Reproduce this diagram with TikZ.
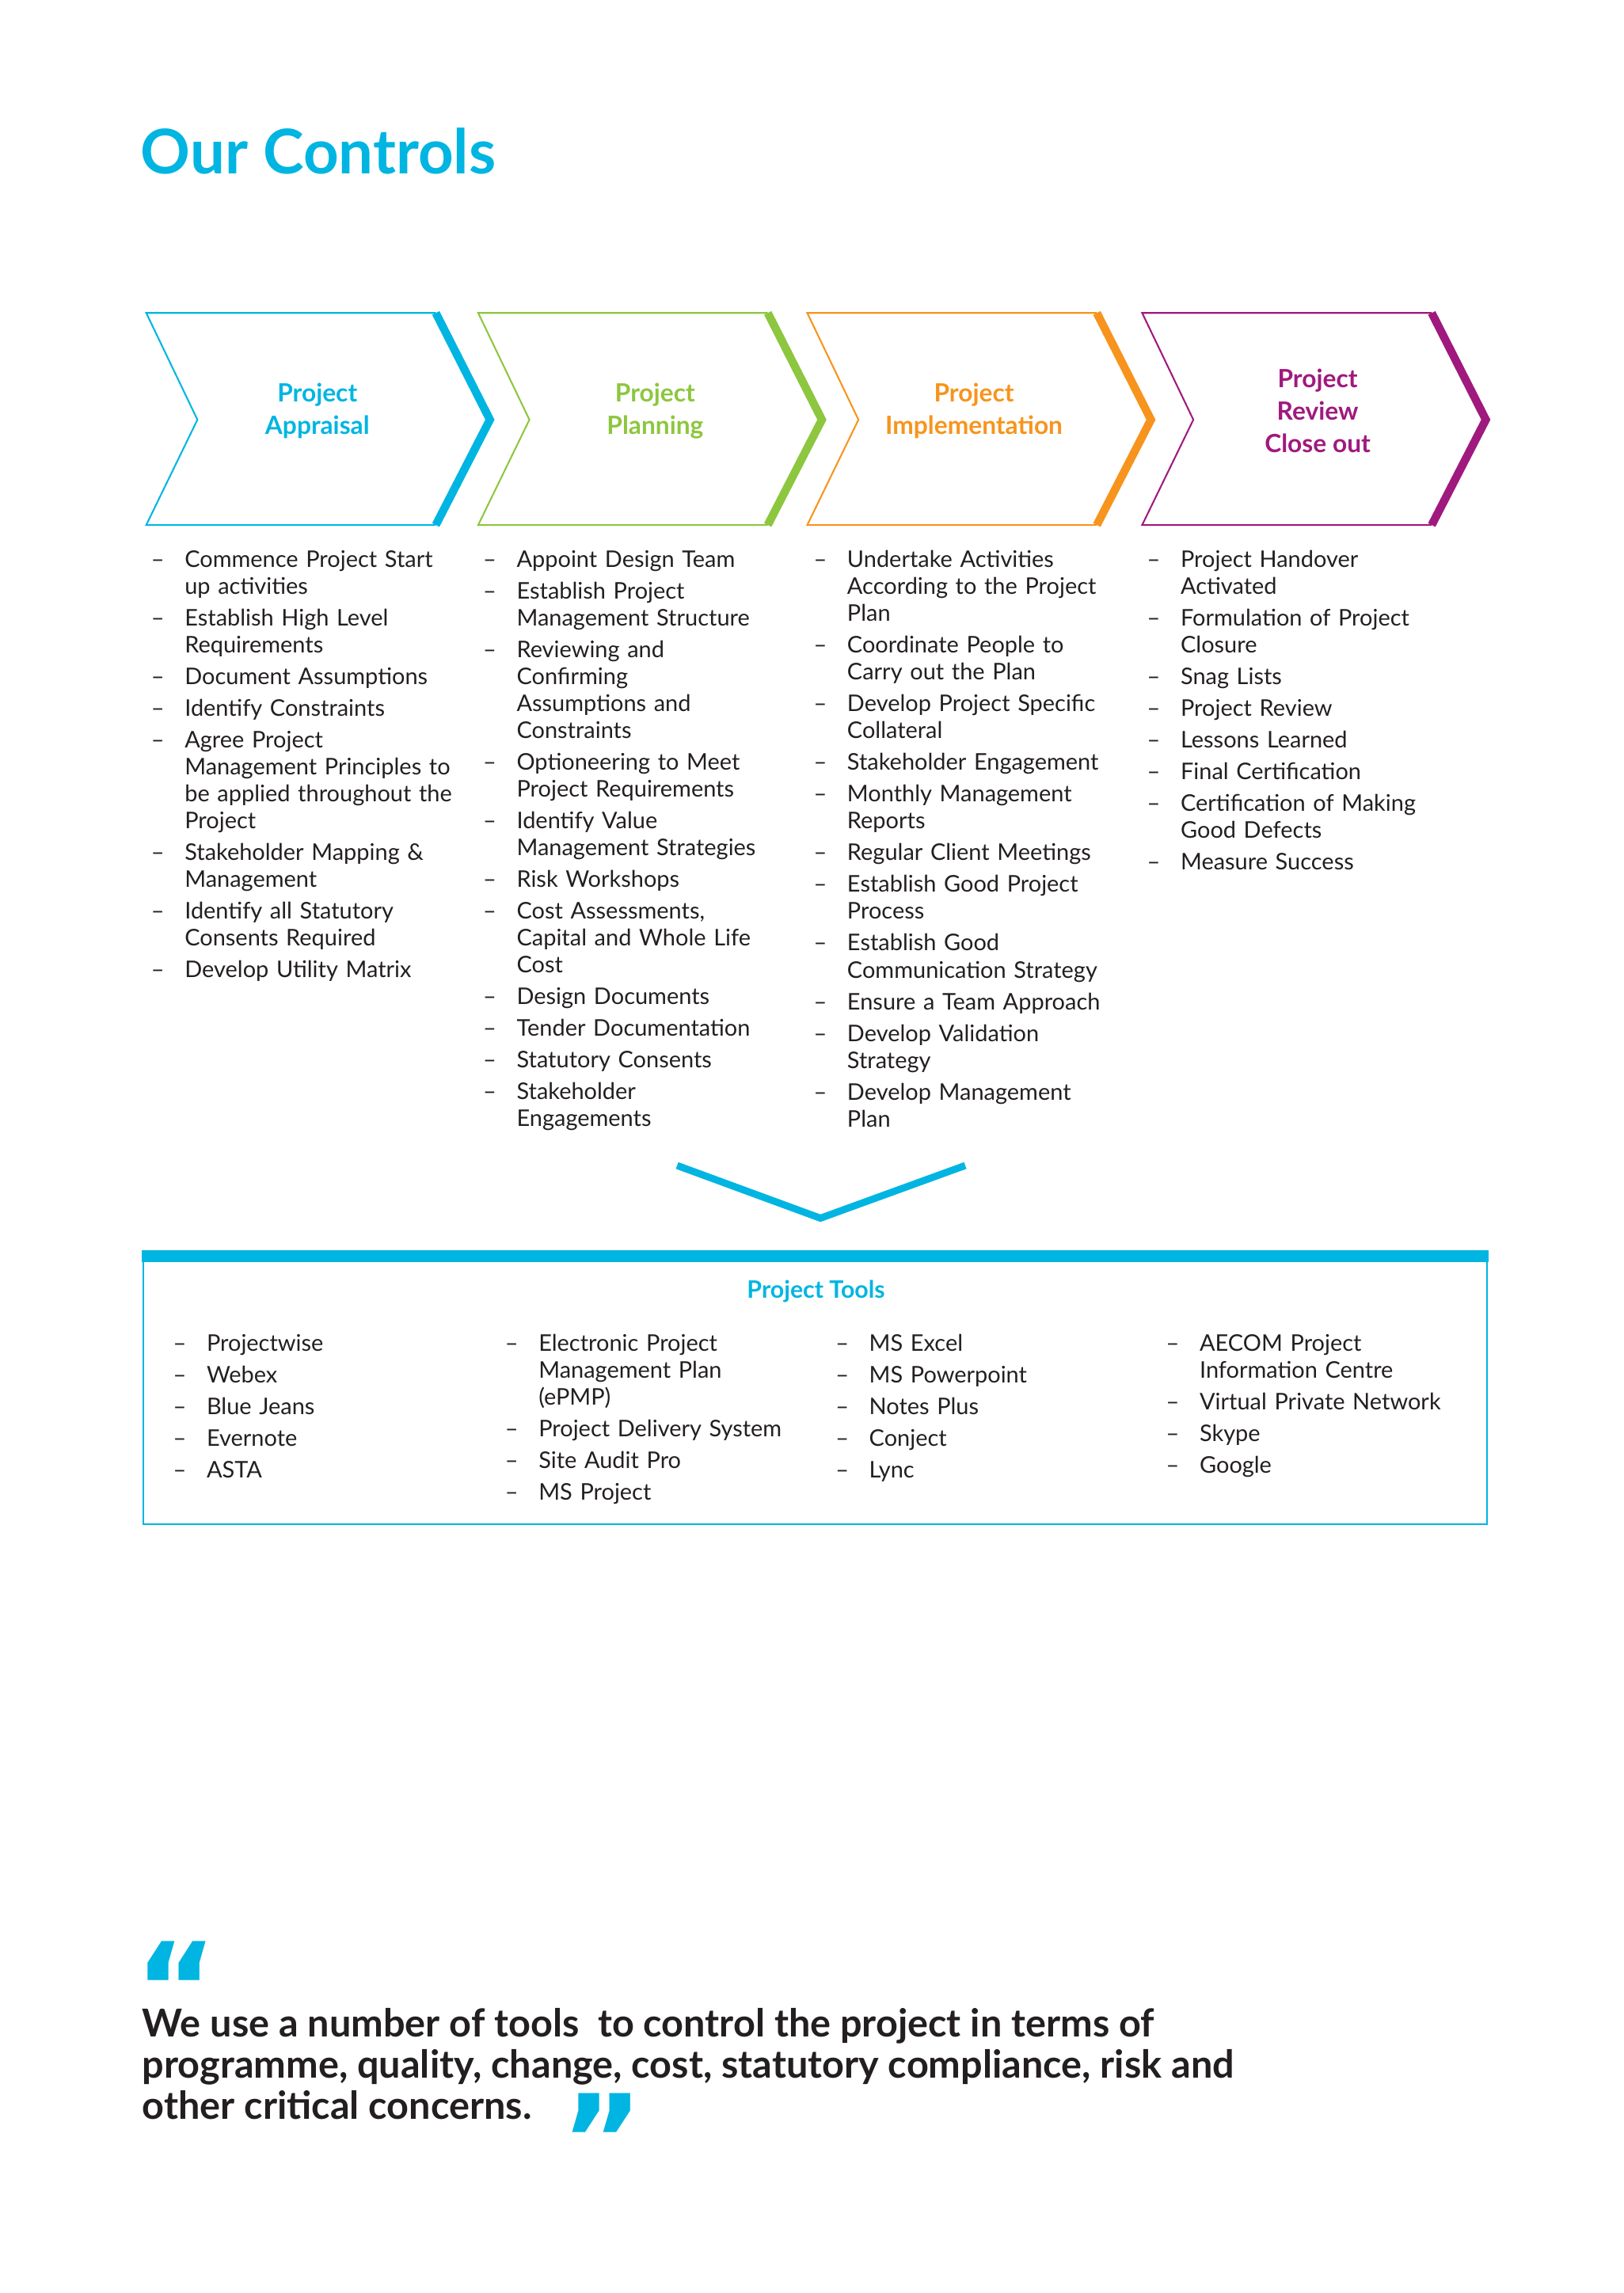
\documentclass[tikz,border=0pt]{standalone}
\usepackage{fontspec}
\setmainfont{Lato}
\newfontfamily\qfont{DejaVu Sans}
\definecolor{ccyan}{HTML}{00B5E2}
\definecolor{cgreen}{HTML}{8DC63F}
\definecolor{corange}{HTML}{F7941D}
\definecolor{cpurple}{HTML}{A0197E}
\definecolor{ctext}{HTML}{231F20}
\newcommand{\itm}[1]{\noindent\hangindent=12.3pt\hangafter=1\makebox[12.3pt][l]{–}#1\par\vspace{1.7pt}}
\tikzset{
 lst/.style={anchor=north west,inner sep=0pt,text width=130pt,align=left,font=\fontsize{8.4}{9.9}\selectfont,text=ctext},
 chev/.style={line width=0.6pt},
 chevthick/.style={line width=3pt},
 clabel/.style={font=\bfseries\fontsize{9.2}{11.8}\selectfont,align=center},
 qmark/.style={anchor=north west,inner sep=0,text=ccyan,font=\qfont\bfseries\fontsize{46}{46}\selectfont}
}
\begin{document}
\begin{tikzpicture}[x=0.536pt,y=-0.536pt]
\useasboundingbox (0,0) rectangle (1110,1568);
\node[anchor=base west,inner sep=0,text=ccyan,font=\bfseries\fontsize{22.6}{27}\selectfont] (title) at (96,119) {Our Controls};
% chevrons
\foreach \x/\c/\n in {100/ccyan/a,327/cgreen/b,552/corange/c,781/cpurple/d}{
  \draw[chev,\c] (\x+198,214) -- (\x,214) -- (\x+35,287) -- (\x,359) -- (\x+198,359);
  \draw[chevthick,\c,line join=miter] (\x+198,214) -- (\x+235,287) -- (\x+198,359);
}
\node[clabel,text=ccyan] (pa) at (217,281) {Project\\Appraisal};
\node[clabel,text=cgreen] (pp) at (448,281) {Project\\Planning};
\node[clabel,text=corange] (pi) at (666,281) {Project\\Implementation};
\node[clabel,text=cpurple] (pr) at (901,281) {Project\\Review\\Close out};
% lists
\node[lst] (l1) at (103,376) {%
\itm{Commence Project Start\newline up activities}
\itm{Establish High Level\newline Requirements}
\itm{Document Assumptions}
\itm{Identify Constraints}
\itm{Agree Project\newline Management Principles to\newline be applied throughout the\newline Project}
\itm{Stakeholder Mapping \&\newline Management}
\itm{Identify all Statutory\newline Consents Required}
\itm{Develop Utility Matrix}};
\node[lst] (l2) at (330,376) {%
\itm{Appoint Design Team}
\itm{Establish Project\newline Management Structure}
\itm{Reviewing and\newline Confirming\newline Assumptions and\newline Constraints}
\itm{Optioneering to Meet\newline Project Requirements}
\itm{Identify Value\newline Management Strategies}
\itm{Risk Workshops}
\itm{Cost Assessments,\newline Capital and Whole Life\newline Cost}
\itm{Design Documents}
\itm{Tender Documentation}
\itm{Statutory Consents}
\itm{Stakeholder\newline Engagements}};
\node[lst] (l3) at (556,376) {%
\itm{Undertake Activities\newline According to the Project\newline Plan}
\itm{Coordinate People to\newline Carry out the Plan}
\itm{Develop Project Specific\newline Collateral}
\itm{Stakeholder Engagement}
\itm{Monthly Management\newline Reports}
\itm{Regular Client Meetings}
\itm{Establish Good Project\newline Process}
\itm{Establish Good\newline Communication Strategy}
\itm{Ensure a Team Approach}
\itm{Develop Validation\newline Strategy}
\itm{Develop Management\newline Plan}};
\node[lst] (l4) at (784,376) {%
\itm{Project Handover\newline Activated}
\itm{Formulation of Project\newline Closure}
\itm{Snag Lists}
\itm{Project Review}
\itm{Lessons Learned}
\itm{Final Certification}
\itm{Certification of Making\newline Good Defects}
\itm{Measure Success}};
% down chevron
\draw[ccyan,line width=2.6pt] (463,797) -- (561,833) -- (660,797);
% tools box
\draw[ccyan,line width=0.6pt] (98,859) rectangle (1017,1042);
\fill[ccyan] (97,855) rectangle (1018,863);
\node[text=ccyan,font=\bfseries\fontsize{8.8}{10}\selectfont] (pt) at (558,883) {Project Tools};
\node[lst] (t1) at (118,912) {%
\itm{Projectwise}\itm{Webex}\itm{Blue Jeans}\itm{Evernote}\itm{ASTA}};
\node[lst] (t2) at (345,912) {%
\itm{Electronic Project\newline Management Plan\newline (ePMP)}\itm{Project Delivery System}\itm{Site Audit Pro}\itm{MS Project}};
\node[lst] (t3) at (571,912) {%
\itm{MS Excel}\itm{MS Powerpoint}\itm{Notes Plus}\itm{Conject}\itm{Lync}};
\node[lst] (t4) at (797,912) {%
\itm{AECOM Project\newline Information Centre}\itm{Virtual Private Network}\itm{Skype}\itm{Google}};
% quote
\node[qmark] (qo) at (92,1327) {“};
\node[anchor=north west,inner sep=0,align=left,text=ctext,font=\bfseries\fontsize{14.1}{15}\selectfont] (qt) at (97,1373) {We use a number of tools\ \ to control the project in terms of\\programme, quality, change, cost, statutory compliance, risk and\\other critical concerns.};
\node[qmark] (qc) at (383,1431) {”};
\end{tikzpicture}
\end{document}
